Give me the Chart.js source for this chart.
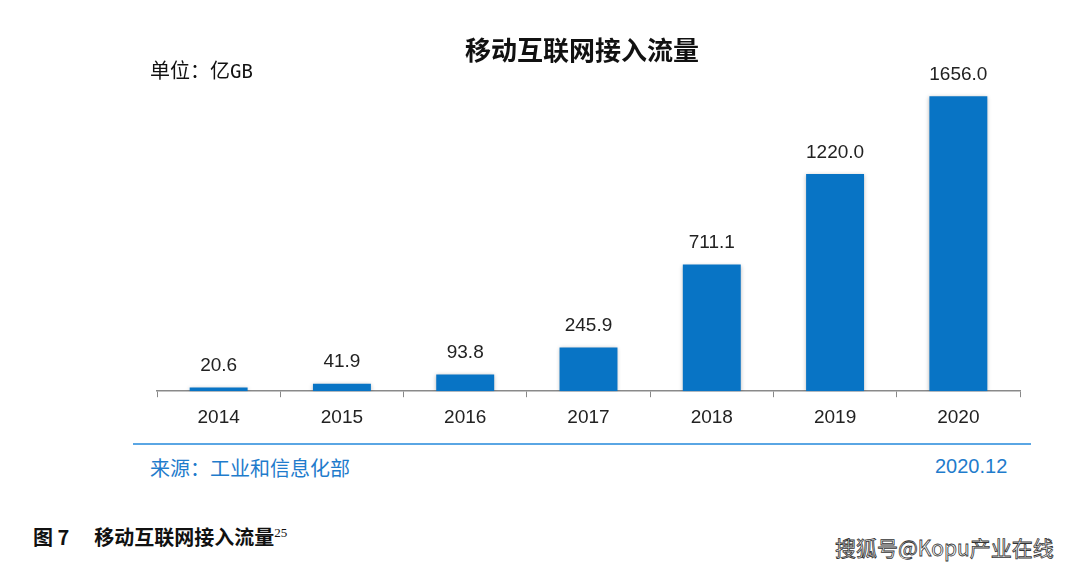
<!DOCTYPE html>
<html>
<head>
<meta charset="utf-8">
<script src="https://cdn.jsdelivr.net/npm/chart.js@4/dist/chart.umd.min.js"></script>
<style>
  html, body { margin: 0; padding: 0; background: #fff; }
  body { width: 1080px; height: 574px; position: relative; overflow: hidden; font-family: "Noto Sans CJK SC", sans-serif; }
  #wrap { position: absolute; left: 0; top: 0; width: 1080px; height: 440px; }
  .txt { position: absolute; white-space: nowrap; }
  #title { left: 0; width: 1164px; top: 30px; text-align: center; font-size: 26px; font-weight: bold; color: #111; }
  #unit { left: 150px; top: 55px; font-size: 20px; color: #111; }
  #unit span { font-family: "DejaVu Sans Mono", monospace; font-size: 19px; }
  #rule { position: absolute; left: 133px; top: 443px; width: 898px; height: 2px; background: #5aa6e4; }
  #src { left: 150px; top: 453px; font-size: 20px; color: #1f7ccc; }
  #date { left: 935px; top: 455px; font-family: "Liberation Sans", Arial, sans-serif; font-size: 20px; color: #1f7ccc; }
  #cap { left: 33px; top: 522px; font-size: 20px; font-weight: bold; color: #111; }
  #cap .gap { display: inline-block; width: 25px; }
  #cap sup { font-size: 13px; font-weight: normal; font-family: "Liberation Serif", serif; }
  #mark { left: 835px; top: 532px; font-size: 21px; color: #fff; -webkit-text-stroke: 0.8px #333; }
</style>
</head>
<body>
<div id="wrap"><canvas id="chart"></canvas></div>
<div class="txt" id="title">移动互联网接入流量</div>
<div class="txt" id="unit">单位：亿<span>GB</span></div>
<div id="rule"></div>
<div class="txt" id="src">来源：工业和信息化部</div>
<div class="txt" id="date">2020.12</div>
<div class="txt" id="cap">图 7<span class="gap"></span>移动互联网接入流量<sup>25</sup></div>
<div class="txt" id="mark">搜狐号@Kopu产业在线</div>
<script>
const years = ['2014', '2015', '2016', '2017', '2018', '2019', '2020'];
const traffic = [20.6, 41.9, 93.8, 245.9, 711.1, 1220.0, 1656.0];

document.addEventListener('DOMContentLoaded', () => {
  // value labels above the bars
  const valueLabels = {
    id: 'valueLabels',
    afterDatasetsDraw(chart) {
      const ctx = chart.ctx;
      const meta = chart.getDatasetMeta(0);
      ctx.save();
      ctx.font = '19px "Liberation Sans", Arial, sans-serif';
      ctx.fillStyle = '#222';
      ctx.textAlign = 'center';
      ctx.textBaseline = 'bottom';
      meta.data.forEach((bar, i) => {
        ctx.fillText(traffic[i].toFixed(1), bar.x, bar.y - 12);
      });
      ctx.restore();
    }
  };

  // soft shadow round the bars
  const barShadow = {
    id: 'barShadow',
    beforeDatasetsDraw(chart) {
      const ctx = chart.ctx;
      ctx.save();
      ctx.shadowColor = 'rgba(0,0,0,0.28)';
      ctx.shadowBlur = 4;
      ctx.shadowOffsetX = 0;
      ctx.shadowOffsetY = 1;
    },
    afterDatasetsDraw(chart) {
      chart.ctx.restore();
    }
  };

  const ctx = document.getElementById('chart').getContext('2d');
  new Chart(ctx, {
    type: 'bar',
    data: {
      labels: years,
      datasets: [{
        data: traffic,
        backgroundColor: '#0874c5',
        borderWidth: 0,
        barPercentage: 0.94,
        categoryPercentage: 0.5
      }]
    },
    options: {
      responsive: true,
      maintainAspectRatio: false,
      animation: false,
      layout: { padding: { left: 157, right: 60, top: 35, bottom: 2 } },
      plugins: {
        legend: { display: false },
        tooltip: { enabled: false }
      },
      scales: {
        x: {
          grid: {
            offset: true,
            drawOnChartArea: false,
            drawTicks: true,
            tickLength: 6,
            color: '#888'
          },
          border: { color: '#8a8a8a', width: 1.5 },
          ticks: {
            padding: 9,
            color: '#222',
            font: { family: '"Liberation Sans", Arial, sans-serif', size: 19 }
          }
        },
        y: {
          display: false,
          min: 0,
          max: 2000
        }
      }
    },
    plugins: [barShadow, valueLabels]
  });
});
</script>
</body>
</html>
